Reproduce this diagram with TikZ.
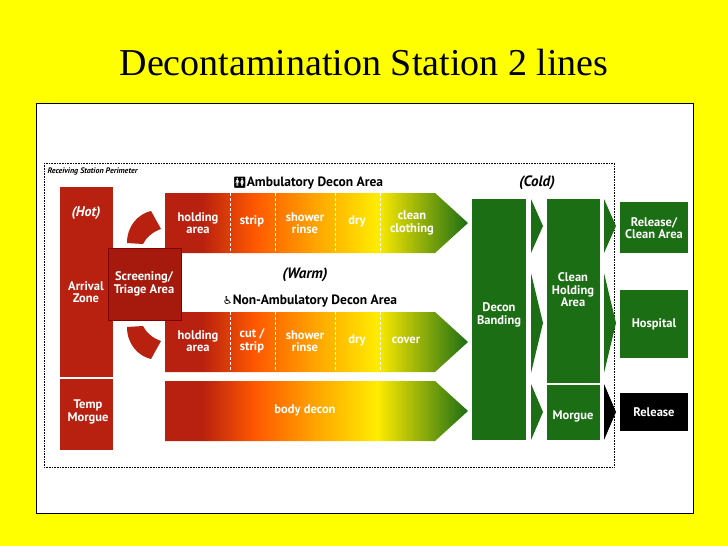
\documentclass[tikz,border=0pt]{standalone}
\usepackage{fontspec}
\setmainfont{PT Sans}
\newfontfamily\djv{DejaVu Sans}
\newfontfamily\emo{Noto Emoji}
\newfontfamily\titlefont{Liberation Serif}
\usetikzlibrary{calc}
\definecolor{dred}{HTML}{B8200F}
\definecolor{sred}{HTML}{A51A0C}
\definecolor{dgreen}{HTML}{1C6E14}
\definecolor{byel}{HTML}{FFFF00}
\pgfdeclarehorizontalshading{decon}{100bp}{color(0bp)=(dred);color(31bp)=(dred);color(40bp)=(orange!70!red);color(50bp)=(orange!70!yellow);color(60bp)=(yellow!85!orange);color(75bp)=(dgreen);color(100bp)=(dgreen)}
\tikzset{
 lbl/.style={text=white,font=\bfseries\fontsize{12.5}{12.5}\selectfont,align=center},
 hdr/.style={text=black,font=\bfseries\fontsize{13.5}{14}\selectfont},
 sep/.style={white,densely dashed,line width=0.7pt}
}
\begin{document}
\begin{tikzpicture}[x=1pt,y=-1pt]
\fill[byel] (0,0) rectangle (728,546);
\useasboundingbox (0,0) rectangle (728,546);
\node (title) at (364,63) {\titlefont\fontsize{38}{38}\selectfont Decontamination Station 2 lines};
\draw[fill=white,line width=0.6pt] (36,103) rectangle (693,513);
\draw[densely dotted,line width=0.6pt] (44,163) rectangle (614,467);
\node[anchor=west,font=\itshape\bfseries\fontsize{8}{8}\selectfont] (rsp) at (44,171) {Receiving Station Perimeter};
% arrival zone
\fill[dred] (60,187) rectangle (113,450);
\draw[white,line width=1.2pt] (60,378) -- (113,378);
\node[lbl,font=\itshape\bfseries\fontsize{14}{14}\selectfont] (hot) at (86,213) {(Hot)};
\node[lbl] (arr) at (86,292) {Arrival\\Zone};
\node[lbl] (tm) at (88,412) {Temp\\Morgue};
% petals
\fill[dred] (127,243) .. controls (127,226) and (138,214) .. (151,211) -- (161,229) .. controls (152,232) and (146,238) .. (143,244) -- cycle;
\fill[dred] (127,327) .. controls (127,344) and (138,356) .. (151,359) -- (161,341) .. controls (152,338) and (146,332) .. (143,326) -- cycle;
% bands
\foreach \t in {193,312,381}{
 \shade[shading=decon] (165,\t) -- (435,\t) -- (468,\t+30) -- (435,\t+60) -- (165,\t+60) -- cycle;
}
\foreach \x in {230,275,335,380}{
 \draw[sep] (\x,193) -- (\x,253);
 \draw[sep] (\x,312) -- (\x,372);
}
% screening
\draw[fill=sred,draw=red!50!black,line width=0.8pt] (108,248) rectangle (181,320);
\node[lbl] (scr) at (144,284) {Screening/\\Triage Area};
\node[lbl] (h1) at (198,223) {holding\\area};
\node[lbl] (s1) at (252,221) {strip};
\node[lbl] (sh1) at (305,223) {shower\\rinse};
\node[lbl] (d1) at (357,221) {dry};
\node[lbl] (c1) at (412,223) {clean\\clothing};
\node[lbl] (h2) at (198,341) {holding\\area};
\node[lbl] (s2) at (252,341) {cut /\\strip};
\node[lbl] (sh2) at (305,341) {shower\\rinse};
\node[lbl] (d2) at (357,340) {dry};
\node[lbl] (c2) at (406,340) {cover};
\node[lbl] (bd) at (305,410) {body decon};
\node[hdr] (amb) at (308,183) {{\emo\fontsize{11}{11}\selectfont 🚻}Ambulatory Decon Area};
\node[hdr,font=\itshape\bfseries\fontsize{15}{15}\selectfont] (warm) at (305,275) {(Warm)};
\node[hdr] (namb) at (310,301) {{\djv\fontsize{11}{11}\selectfont ♿}Non-Ambulatory Decon Area};
\node[hdr,font=\itshape\bfseries\fontsize{15}{15}\selectfont] (cold) at (537,183) {(Cold)};
% green
\fill[dgreen] (472,199) rectangle (526,440);
\node[lbl] (db) at (499,315) {Decon\\Banding};
\fill[dgreen] (547,199) rectangle (600,440);
\draw[white,line width=1.2pt] (547,384) -- (600,384);
\node[lbl] (ch) at (573,290) {Clean\\Holding\\Area};
\node[lbl] (mg) at (573,416) {Morgue};
\foreach \a/\b in {199/253,273/373,384/440}{
 \fill[dgreen] (531,\a) -- (543,\a/2+\b/2) -- (531,\b) -- cycle;
}
\fill[dgreen] (604,199) -- (616,226) -- (604,253) -- cycle;
\fill[dgreen] (604,273) -- (616,323) -- (604,373) -- cycle;
\fill[black] (604,384) -- (616,412) -- (604,440) -- cycle;
\fill[dgreen] (620,202) rectangle (688,253);
\node[lbl] (rel) at (654,228) {Release/\\Clean Area};
\fill[dgreen] (620,290) rectangle (688,358);
\node[lbl] (hos) at (654,324) {Hospital};
\fill[black] (620,393) rectangle (688,431);
\node[lbl] (rls) at (654,412) {Release};
\end{tikzpicture}
\end{document}
